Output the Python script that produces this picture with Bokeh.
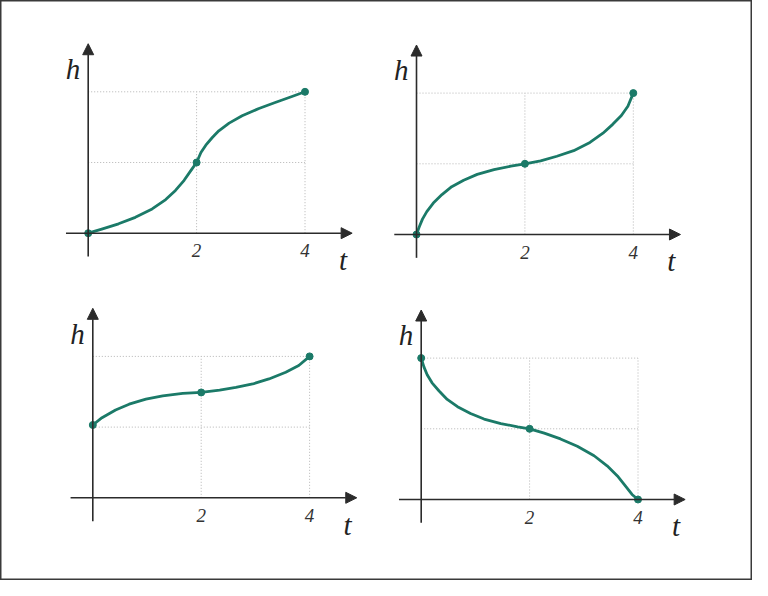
from bokeh.plotting import figure
from bokeh.models import Range1d, Arrow, NormalHead
from bokeh.core.properties import value
from bokeh.embed import file_html
from bokeh.resources import INLINE

# ---------------- data ----------------
t1 = [0, 0.25, 0.56, 0.87, 1.18, 1.43, 1.61, 1.77, 1.89, 2.0, 2.08, 2.17, 2.29, 2.41, 2.60, 2.84, 3.15, 3.45, 3.76, 4.0]
h1 = [0, 0.057, 0.133, 0.224, 0.343, 0.476, 0.605, 0.748, 0.881, 1.0, 1.142, 1.245, 1.354, 1.448, 1.557, 1.660, 1.764, 1.849, 1.934, 2.0]

t2 = [0, 0.05, 0.11, 0.19, 0.31, 0.47, 0.65, 0.87, 1.12, 1.43, 1.74, 2.0, 2.29, 2.59, 2.90, 3.20, 3.44, 3.62, 3.78, 3.90, 4.0]
h2 = [0, 0.106, 0.217, 0.324, 0.444, 0.565, 0.676, 0.768, 0.850, 0.918, 0.966, 1.0, 1.042, 1.107, 1.186, 1.302, 1.433, 1.558, 1.684, 1.814, 2.0]

t3 = [0, 0.17, 0.42, 0.67, 0.98, 1.29, 1.66, 2.0, 2.34, 2.64, 2.95, 3.25, 3.56, 3.80, 4.0]
h3 = [1.03, 1.133, 1.243, 1.324, 1.395, 1.443, 1.476, 1.49, 1.524, 1.562, 1.610, 1.681, 1.776, 1.871, 2.0]

t4 = [0, 0.05, 0.11, 0.20, 0.33, 0.48, 0.67, 0.91, 1.16, 1.47, 1.78, 2.0, 2.27, 2.57, 2.88, 3.19, 3.43, 3.62, 3.77, 3.89, 4.0]
h4 = [2.0, 1.876, 1.765, 1.650, 1.535, 1.415, 1.313, 1.217, 1.138, 1.074, 1.028, 1.0, 0.938, 0.857, 0.752, 0.619, 0.476, 0.333, 0.190, 0.071, 0.0]

dots_t = [0, 2, 4]
dots_h1 = [0, 1, 2]
dots_h2 = [0, 1, 2]
dots_h3 = [1.03, 1.49, 2]
dots_h4 = [2, 1, 0]

t_ticks = [2, 4]
t_tick_labels = ["2", "4"]
h_grid = [1, 2]
t_max = 4
h_max = 2

curves = [(t1, h1, dots_h1), (t2, h2, dots_h2), (t3, h3, dots_h3), (t4, h4, dots_h4)]

# ---------------- layout ----------------
W, H = 752, 580
UT, UH = 54.2, 70.7          # pixels per unit of t and h
origins = [(87.7, 232.7), (416.0, 234.0), (92.3, 497.3), (420.7, 499.0)]  # canvas pixels

CURVE = "#1b7a68"
AXIS = "#2b2b2b"
GRID = "#b4b4b4"
FONT = value("Liberation Serif")

p = figure(width=W, height=H, x_range=Range1d(0, 1), y_range=Range1d(0, 1),
           toolbar_location=None, output_backend="svg", min_border=0,
           x_axis_location=None, y_axis_location=None)
p.grid.visible = False
p.outline_line_color = "#3a3a3a"
p.outline_line_width = 2
p.background_fill_color = "white"

extra_x, extra_y = {}, {}
for i, (ox, oy) in enumerate(origins):
    xs = -ox / UT
    yt = oy / UH
    extra_x[f"x{i}"] = Range1d(xs, xs + W / UT)
    extra_y[f"y{i}"] = Range1d(yt - H / UH, yt)
p.extra_x_ranges = extra_x
p.extra_y_ranges = extra_y

for i, (tt, hh, dh) in enumerate(curves):
    xr, yr = f"x{i}", f"y{i}"
    kw = dict(x_range_name=xr, y_range_name=yr)
    # dotted guide lines
    p.segment(x0=[0] * len(h_grid), y0=h_grid, x1=[t_max] * len(h_grid), y1=h_grid,
              line_color=GRID, line_width=1, line_dash="1 2", **kw)
    p.segment(x0=t_ticks, y0=[0] * len(t_ticks), x1=t_ticks, y1=[h_max] * len(t_ticks),
              line_color=GRID, line_width=1, line_dash="1 2", **kw)
    # axes with arrows
    p.add_layout(Arrow(end=NormalHead(size=11, fill_color=AXIS, line_color=AXIS, line_width=1),
                       x_start=-0.41, y_start=0, x_end=4.87, y_end=0,
                       line_color=AXIS, line_width=1.6, **kw))
    p.add_layout(Arrow(end=NormalHead(size=11, fill_color=AXIS, line_color=AXIS, line_width=1),
                       x_start=0, y_start=-0.33, x_end=0, y_end=2.68,
                       line_color=AXIS, line_width=1.6, **kw))
    # curve and points
    p.line(tt, hh, line_color=CURVE, line_width=2.8, line_join="round", line_cap="round", **kw)
    p.scatter(dots_t, dh, size=7, fill_color=CURVE, line_color=CURVE, **kw)
    # labels
    p.text(x=t_ticks, y=[-0.25] * len(t_ticks), text=t_tick_labels, text_font=FONT,
           text_font_style="italic", text_font_size="19px", text_color="#333333",
           text_align="center", text_baseline="middle", **kw)
    p.text(x=[-0.28], y=[2.32], text=["h"], text_font=FONT, text_font_style="italic",
           text_font_size="29px", text_color="#222222", text_align="center",
           text_baseline="middle", **kw)
    p.text(x=[4.7], y=[-0.38], text=["t"], text_font=FONT, text_font_style="italic",
           text_font_size="29px", text_color="#222222", text_align="center",
           text_baseline="middle", **kw)

open("out.html", "w").write(file_html(p, INLINE))
